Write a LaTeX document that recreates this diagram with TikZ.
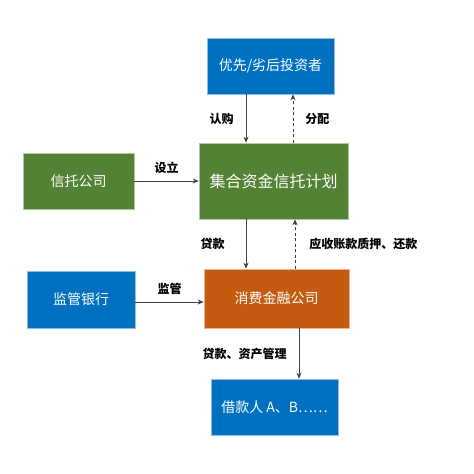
\documentclass[tikz,border=0pt]{standalone}
\usepackage{fontspec}
\usepackage{tikz}
\usetikzlibrary{positioning, arrows.meta, calc}
\setmainfont{Noto Sans CJK SC}
\definecolor{planblue}{RGB}{0,112,192}
\definecolor{plangreen}{RGB}{84,130,53}
\definecolor{planorange}{RGB}{197,90,17}
\tikzset{
  box/.style={
    rectangle, line width=0.6pt, inner sep=0pt,
    text=white, font=\fontsize{14}{16}\selectfont
  },
  bluebox/.style={box, fill=planblue, draw=planblue!45!white},
  greenbox/.style={box, fill=plangreen, draw=plangreen!45!white},
  orangebox/.style={box, fill=planorange, draw=planorange!45!white},
  flow/.style={draw=black!75, -{Stealth[length=6pt,width=5pt]}, line width=0.8pt},
  back/.style={flow, dashed, dash pattern=on 3pt off 2.5pt},
  lbl/.style={font=\bfseries\fontsize{12}{14}\selectfont, text=black, inner sep=0pt},
}

\begin{document}
\begin{tikzpicture}[x=1pt, y=-1pt]
  \useasboundingbox (0,0) rectangle (474,474);
  \node[bluebox, minimum width=127pt, minimum height=56pt] (inv) at (270.5,66) {优先/劣后投资者};
  \node[greenbox, minimum width=149pt, minimum height=76pt, font=\fontsize{16}{18}\selectfont] (plan) at (273.5,181) {集合资金信托计划};
  \node[greenbox, minimum width=111pt, minimum height=56pt] (trust) at (78.5,181) {信托公司};
  \node[bluebox, minimum width=108pt, minimum height=57pt] (bank) at (81,299.5) {监管银行};
  \node[orangebox, minimum width=145pt, minimum height=59pt] (cfc) at (276.5,298.5) {消费金融公司};
  \node[bluebox, minimum width=127pt, minimum height=56pt] (borrow) at (274.5,407) {借款人 A、B……};

  % investors <-> trust plan
  \draw[flow] ([xshift=-24.5pt]inv.south) -- ([xshift=-24.5pt]inv.south |- plan.north)
    node[lbl, midway, left=12pt] (lbuy) {认购};
  \draw[back] ([xshift=19.5pt]plan.north) -- ([xshift=19.5pt]plan.north |- inv.south)
    node[lbl, midway, right=12pt] (ldist) {分配};
  % trust company / bank
  \draw[flow] (trust.east) -- (plan.west)
    node[lbl, midway, above=7pt] (lset) {设立};
  \draw[flow] ([yshift=-2.5pt]bank.east) -- ([yshift=-2.5pt]bank.east -| cfc.west)
    node[lbl, midway, above=7pt] (lsup) {监管};
  % trust plan <-> consumer finance
  \draw[flow] ([xshift=-27.5pt]plan.south) -- ([xshift=-27.5pt]plan.south |- cfc.north)
    node[lbl, midway, left=21pt] (lloan) {贷款};
  \draw[back] ([xshift=18.5pt]cfc.north) -- ([xshift=18.5pt]cfc.north |- plan.south)
    node[lbl, midway, right=14pt] (lpledge) {应收账款质押、还款};
  % consumer finance -> borrowers
  \draw[flow] ([xshift=22.5pt]cfc.south) -- ([xshift=22.5pt]cfc.south |- borrow.north)
    node[lbl, midway, left=12pt] (lmanage) {贷款、资产管理};
\end{tikzpicture}
\end{document}
